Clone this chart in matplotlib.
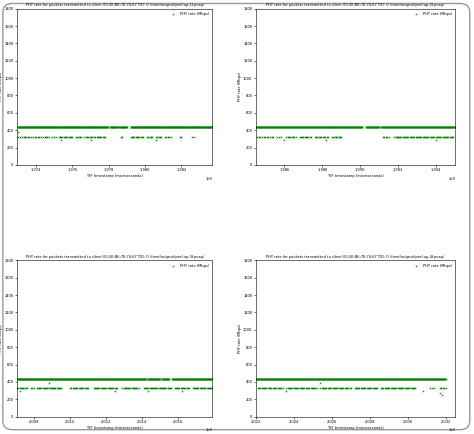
import numpy as np
import matplotlib.pyplot as plt
from matplotlib.patches import FancyBboxPatch

titles = [
    "PHY rate for packets transmitted to client 00:26:B6:7E:74:67 TID: 0 (/mnt/output/iperf-up-1f.pcap)",
    "PHY rate for packets transmitted to client 00:26:B6:7E:74:67 TID: 0 (/mnt/output/iperf-up-2f.pcap)",
    "PHY rate for packets transmitted to client 00:26:B6:7E:74:67 TID: 0 (/mnt/output/iperf-up-3f.pcap)",
    "PHY rate for packets transmitted to client 00:26:B6:7E:74:67 TID: 0 (/mnt/output/iperf-up-4f.pcap)",
]
xlims = [(1.97296e9, 1.98370e9), (1.98450e9, 1.99500e9), (2.00705e9, 2.01790e9), (2.02200e9, 2.03250e9)]

# main band runs (start, end) at 433 Mbps
high_rate = 433.3
high_runs = [
    [(1.97300e9, 1.97796e9), (1.97808e9, 1.97850e9), (1.97858e9, 1.97900e9), (1.97920e9, 1.98370e9)],
    [(1.98450e9, 1.99010e9), (1.99030e9, 1.99100e9), (1.99110e9, 1.99500e9)],
    [(2.00705e9, 2.01420e9), (2.01430e9, 2.01500e9), (2.01510e9, 2.01550e9), (2.01565e9, 2.01790e9)],
    [(2.02200e9, 2.03200e9)],
]
# lower band runs at 325 Mbps
low_rate = 325.0
low_runs = [
    [(1.97300e9, 1.97310e9), (1.97325e9, 1.97370e9), (1.97385e9, 1.97425e9), (1.97440e9, 1.97470e9),
     (1.97490e9, 1.97510e9), (1.97525e9, 1.97600e9), (1.97620e9, 1.97650e9), (1.97665e9, 1.97710e9),
     (1.97720e9, 1.97780e9), (1.97870e9, 1.97875e9), (1.97920e9, 1.97990e9), (1.98010e9, 1.98040e9),
     (1.98060e9, 1.98090e9), (1.98110e9, 1.98140e9), (1.98190e9, 1.98200e9), (1.98260e9, 1.98270e9)],
    [(1.98455e9, 1.98490e9), (1.98500e9, 1.98540e9), (1.98560e9, 1.98580e9), (1.98610e9, 1.98660e9),
     (1.98680e9, 1.98740e9), (1.98760e9, 1.98830e9), (1.98850e9, 1.98900e9), (1.99120e9, 1.99150e9),
     (1.99180e9, 1.99490e9)],
    [(2.00705e9, 2.00760e9), (2.00780e9, 2.00800e9), (2.00815e9, 2.00950e9), (2.01000e9, 2.01100e9),
     (2.01130e9, 2.01260e9), (2.01290e9, 2.01380e9), (2.01410e9, 2.01560e9), (2.01580e9, 2.01660e9),
     (2.01680e9, 2.01790e9)],
    [(2.02210e9, 2.02340e9), (2.02360e9, 2.02520e9), (2.02540e9, 2.02700e9), (2.02720e9, 2.02840e9),
     (2.02860e9, 2.03040e9), (2.03120e9, 2.03140e9), (2.03170e9, 2.03200e9)],
]
# isolated outliers
outlier_x = [
    [1.97300e9, 1.97540e9, 1.97700e9, 1.98060e9],
    [1.98600e9, 1.98820e9, 1.99400e9],
    [2.00720e9, 2.00880e9, 2.01250e9, 2.01430e9, 2.01620e9],
    [2.02360e9, 2.02540e9, 2.03080e9, 2.03170e9, 2.03180e9],
]
outlier_y = [
    [380, 292, 292, 292],
    [292, 292, 292],
    [292, 390, 292, 292, 292],
    [292, 390, 292, 270, 250],
]

positions = [
    [0.036, 0.62, 0.412, 0.36],
    [0.540, 0.62, 0.420, 0.36],
    [0.036, 0.04, 0.412, 0.36],
    [0.540, 0.04, 0.420, 0.36],
]

fig = plt.figure(figsize=(4.74, 4.34), dpi=100)
card = FancyBboxPatch((0.006, 0.01), 0.985, 0.982, boxstyle="round,pad=0,rounding_size=0.02",
                      transform=fig.transFigure, facecolor="white", edgecolor="#999999", lw=1.0,
                      zorder=-5)
fig.patches.append(card)

for i in range(4):
    ax = fig.add_axes(positions[i])
    ax.patch.set_alpha(0)
    xs, ys = [], []
    for a, b in high_runs[i]:
        n = max(2, int((b - a) / 2e4))
        pts = np.linspace(a, b, n)
        xs.extend(pts); ys.extend([high_rate] * n)
    for a, b in low_runs[i]:
        n = max(2, int((b - a) / 6e4))
        pts = np.linspace(a, b, n)
        xs.extend(pts); ys.extend([low_rate] * n)
    xs.extend(outlier_x[i]); ys.extend(outlier_y[i])
    ax.scatter(xs, ys, s=1.2, marker="x", color="green", lw=0.4, label="PHY rate (Mbps)")
    ax.set_xlim(*xlims[i])
    ax.set_ylim(0, 1800)
    ax.set_yticks(range(0, 1801, 200))
    ax.set_title(titles[i], fontsize=2.6, pad=2)
    ax.set_xlabel("TSF timestamp (microseconds)", fontsize=2.6, labelpad=1)
    ax.set_ylabel("PHY rate (Mbps)", fontsize=2.6, labelpad=1)
    ax.tick_params(labelsize=2.6, length=1.5, width=0.4, pad=1)
    ax.xaxis.get_offset_text().set_fontsize(2.6)
    for s in ax.spines.values():
        s.set_linewidth(0.4)
    ax.legend(loc="upper right", fontsize=2.6, frameon=False, markerscale=1)

fig.savefig("out.png", dpi=100)
